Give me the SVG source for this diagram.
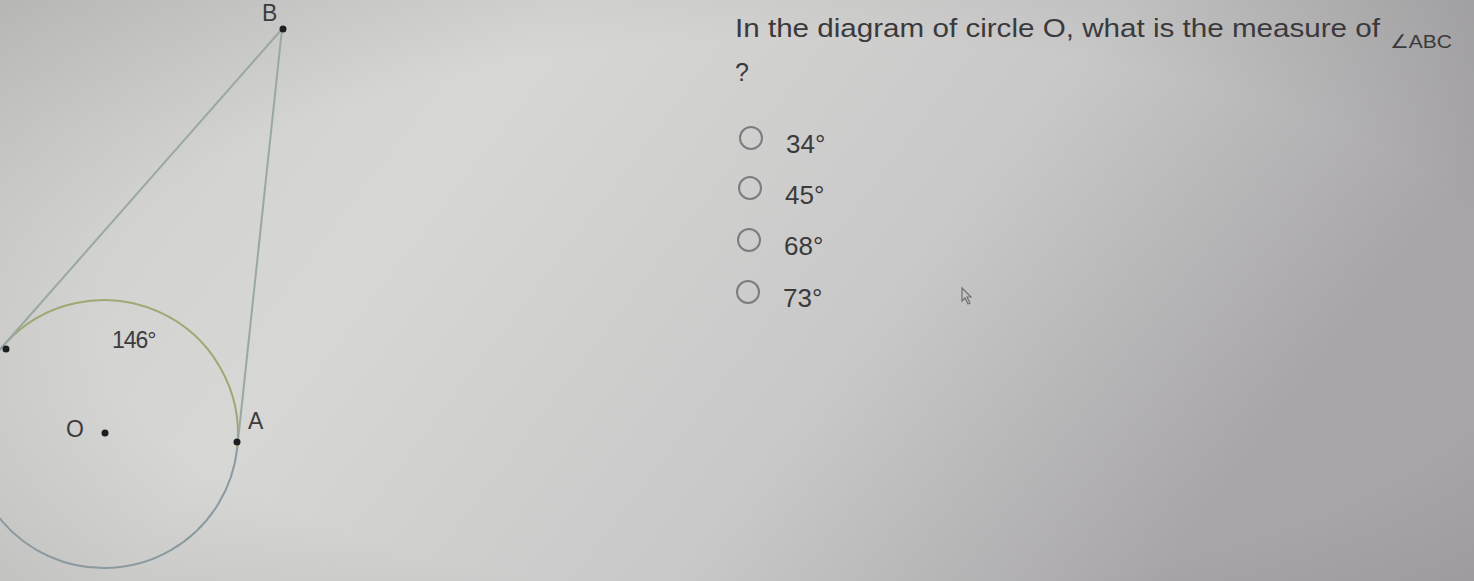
<svg xmlns="http://www.w3.org/2000/svg" width="1474" height="581" viewBox="0 0 1474 581">
<defs>
<linearGradient id="bg" x1="0" y1="0" x2="1" y2="0.3">
<stop offset="0" stop-color="#cdcdcc"/>
<stop offset="0.35" stop-color="#d7d7d5"/>
<stop offset="0.7" stop-color="#c9c8c8"/>
<stop offset="1" stop-color="#a7a5a8"/>
</linearGradient>
<radialGradient id="vig" cx="0.55" cy="0.55" r="0.8">
<stop offset="0.6" stop-color="#000" stop-opacity="0"/>
<stop offset="1" stop-color="#000" stop-opacity="0.12"/>
</radialGradient>
<style>
.t{font-family:"Liberation Sans",Arial,sans-serif;fill:#3a3a3c}
.lbl{font-family:"Liberation Sans",Arial,sans-serif;fill:#3c3c3e;font-size:23px}
.opt{fill:none;stroke:#7c7c7e;stroke-width:2}
.dot{fill:#1e1e20}
</style>
</defs>
<rect width="1474" height="581" fill="url(#bg)"/>
<rect width="1474" height="581" fill="url(#vig)"/>
<g id="connectors" fill="none" stroke-width="2">
<path d="M 237.2 448.2 A 134 134 0 1 1 4.3 344.5" stroke="#8c9aa0"/>
<path d="M 4.3 344.5 A 134 134 0 0 1 237.2 448.2" stroke="#9ea870"/>
<line x1="282" y1="29" x2="4.3" y2="344.5" stroke="#9aa8a2"/>
<line x1="282" y1="29" x2="237.2" y2="448.2" stroke="#9aa8a2"/>
</g>
<g id="point-B"><circle class="dot" cx="283" cy="29" r="3.5"/><text class="lbl" x="262" y="21" font-size="14">B</text></g>
<g id="point-C"><circle class="dot" cx="6" cy="349" r="3.5"/></g>
<g id="point-O"><circle class="dot" cx="105" cy="433" r="3.5"/><text class="lbl" x="66" y="437" font-size="24">O</text></g>
<g id="point-A"><circle class="dot" cx="237" cy="442" r="3.5"/><text class="lbl" x="248" y="429">A</text></g>
<g id="arc-label"><text class="lbl" x="112" y="348" font-size="21" style="letter-spacing:-1px">146°</text></g>
<g id="question">
<text class="t" x="735" y="37" font-size="25" textLength="645" lengthAdjust="spacingAndGlyphs">In the diagram of circle O, what is the measure of</text>
<text class="t" x="1390" y="48" font-size="19" textLength="62" lengthAdjust="spacingAndGlyphs">∠ABC</text>
<text class="t" x="735" y="81" font-size="25">?</text>
</g>
<g id="option-34"><circle class="opt" cx="751" cy="138" r="11"/><text class="t" x="786" y="153" font-size="26">34°</text></g>
<g id="option-45"><circle class="opt" cx="750" cy="188" r="11"/><text class="t" x="785" y="204" font-size="26">45°</text></g>
<g id="option-68"><circle class="opt" cx="749" cy="240" r="11"/><text class="t" x="784" y="255" font-size="26">68°</text></g>
<g id="option-73"><circle class="opt" cx="748" cy="292" r="11"/><text class="t" x="783" y="307" font-size="26">73°</text></g>
<path d="M 962 288 L 962 301 L 965 298 L 968 304 L 970 303 L 967 297 L 971 297 Z" fill="none" stroke="#707072" stroke-width="1.2"/>
</svg>
